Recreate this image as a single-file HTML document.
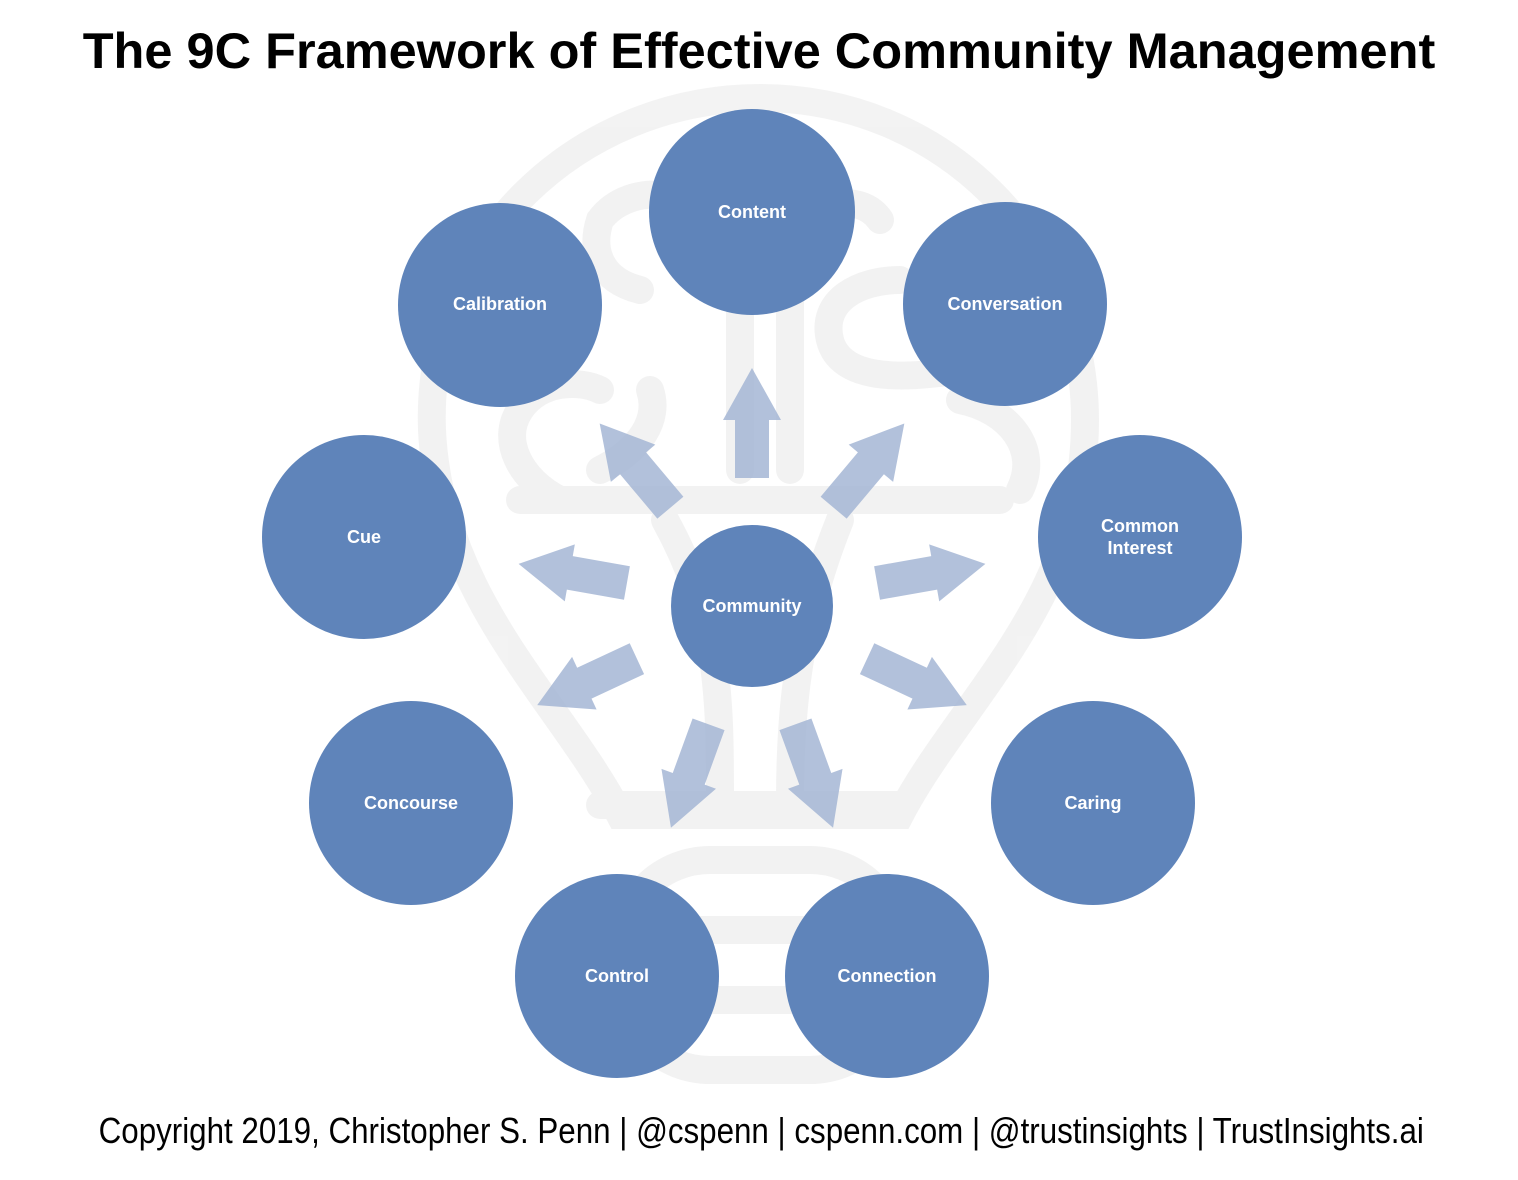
<!DOCTYPE html>
<html><head><meta charset="utf-8"><style>
body{margin:0;width:1518px;height:1180px;background:#fff;overflow:hidden;position:relative;font-family:"Liberation Sans",sans-serif}
.t{position:absolute;left:0;width:1518px;top:22px;text-align:center;font-weight:bold;font-size:50px;color:#000;transform:scaleX(1.01);transform-origin:center;white-space:nowrap}
.f{position:absolute;left:0;width:1518px;top:1110px;text-align:center;font-size:36px;color:#000;transform:scaleX(0.87);transform-origin:center;white-space:nowrap}
</style></head><body>
<div class="t">The 9C Framework of Effective Community Management</div>
<svg width="1518" height="1180" style="position:absolute;left:0;top:0">
<g fill="none" stroke="#f0f0f0" stroke-width="28" stroke-linecap="round" opacity="0.8">
<path d="M620 815 C560 700 440 600 432 430 C425 240 580 98 760 98 C940 98 1085 240 1085 420 C1085 600 960 700 900 815 Z"/>
<path d="M520 500 L1000 500"/>
<path d="M560 500 C520 480 500 440 520 410 C540 380 580 380 600 390 M640 290 C600 280 590 250 600 220 C630 180 700 190 720 230 M740 470 L740 240 M790 470 L790 250 C800 200 860 190 880 220 M900 280 C860 280 820 300 830 340 C840 380 900 380 960 370 M960 400 C1010 410 1040 450 1020 490 M600 470 C640 450 660 420 650 390"/>
<path d="M665 520 C720 620 720 700 720 800 M840 520 C800 620 790 700 790 800"/>
<path d="M600 805 L900 805"/>
<rect x="620" y="860" width="280" height="210" rx="90"/>
<path d="M640 930 L880 930 M640 1000 L880 1000"/>
</g>
<g fill="#5a80b8" fill-opacity="0.97">
<circle cx="752" cy="212" r="103"/>
<circle cx="500" cy="305" r="102"/>
<circle cx="1005" cy="304" r="102"/>
<circle cx="364" cy="537" r="102"/>
<circle cx="1140" cy="537" r="102"/>
<circle cx="411" cy="803" r="102"/>
<circle cx="1093" cy="803" r="102"/>
<circle cx="617" cy="976" r="102"/>
<circle cx="887" cy="976" r="102"/>
<circle cx="752" cy="606" r="81"/>
</g>
<g fill="#9fb1d2" fill-opacity="0.8">
<path d="M127 -17 L185 -17 L185 -29 L237 0 L185 29 L185 17 L127 17 Z" transform="translate(752 605) rotate(-90)"/>
<path d="M127 -17 L185 -17 L185 -29 L237 0 L185 29 L185 17 L127 17 Z" transform="translate(752 605) rotate(-130)"/>
<path d="M127 -17 L185 -17 L185 -29 L237 0 L185 29 L185 17 L127 17 Z" transform="translate(752 605) rotate(-50)"/>
<path d="M127 -17 L185 -17 L185 -29 L237 0 L185 29 L185 17 L127 17 Z" transform="translate(752 605) rotate(-170)"/>
<path d="M127 -17 L185 -17 L185 -29 L237 0 L185 29 L185 17 L127 17 Z" transform="translate(752 605) rotate(-10)"/>
<path d="M127 -17 L185 -17 L185 -29 L237 0 L185 29 L185 17 L127 17 Z" transform="translate(752 605) rotate(155)"/>
<path d="M127 -17 L185 -17 L185 -29 L237 0 L185 29 L185 17 L127 17 Z" transform="translate(752 605) rotate(25)"/>
<path d="M127 -17 L185 -17 L185 -29 L237 0 L185 29 L185 17 L127 17 Z" transform="translate(752 605) rotate(110)"/>
<path d="M127 -17 L185 -17 L185 -29 L237 0 L185 29 L185 17 L127 17 Z" transform="translate(752 605) rotate(70)"/>
</g>
<g fill="#fff" font-family="Liberation Sans,sans-serif" font-weight="bold" font-size="18" text-anchor="middle">
<text x="752" y="218">Content</text>
<text x="500" y="310">Calibration</text>
<text x="1005" y="310">Conversation</text>
<text x="364" y="543">Cue</text>
<text x="1140" y="532">Common</text>
<text x="1140" y="554">Interest</text>
<text x="411" y="809">Concourse</text>
<text x="1093" y="809">Caring</text>
<text x="617" y="982">Control</text>
<text x="887" y="982">Connection</text>
<text x="752" y="612">Community</text>
</g>
</svg>
<div class="f">Copyright 2019, Christopher S. Penn | @cspenn | cspenn.com | @trustinsights | TrustInsights.ai</div>
</body></html>
